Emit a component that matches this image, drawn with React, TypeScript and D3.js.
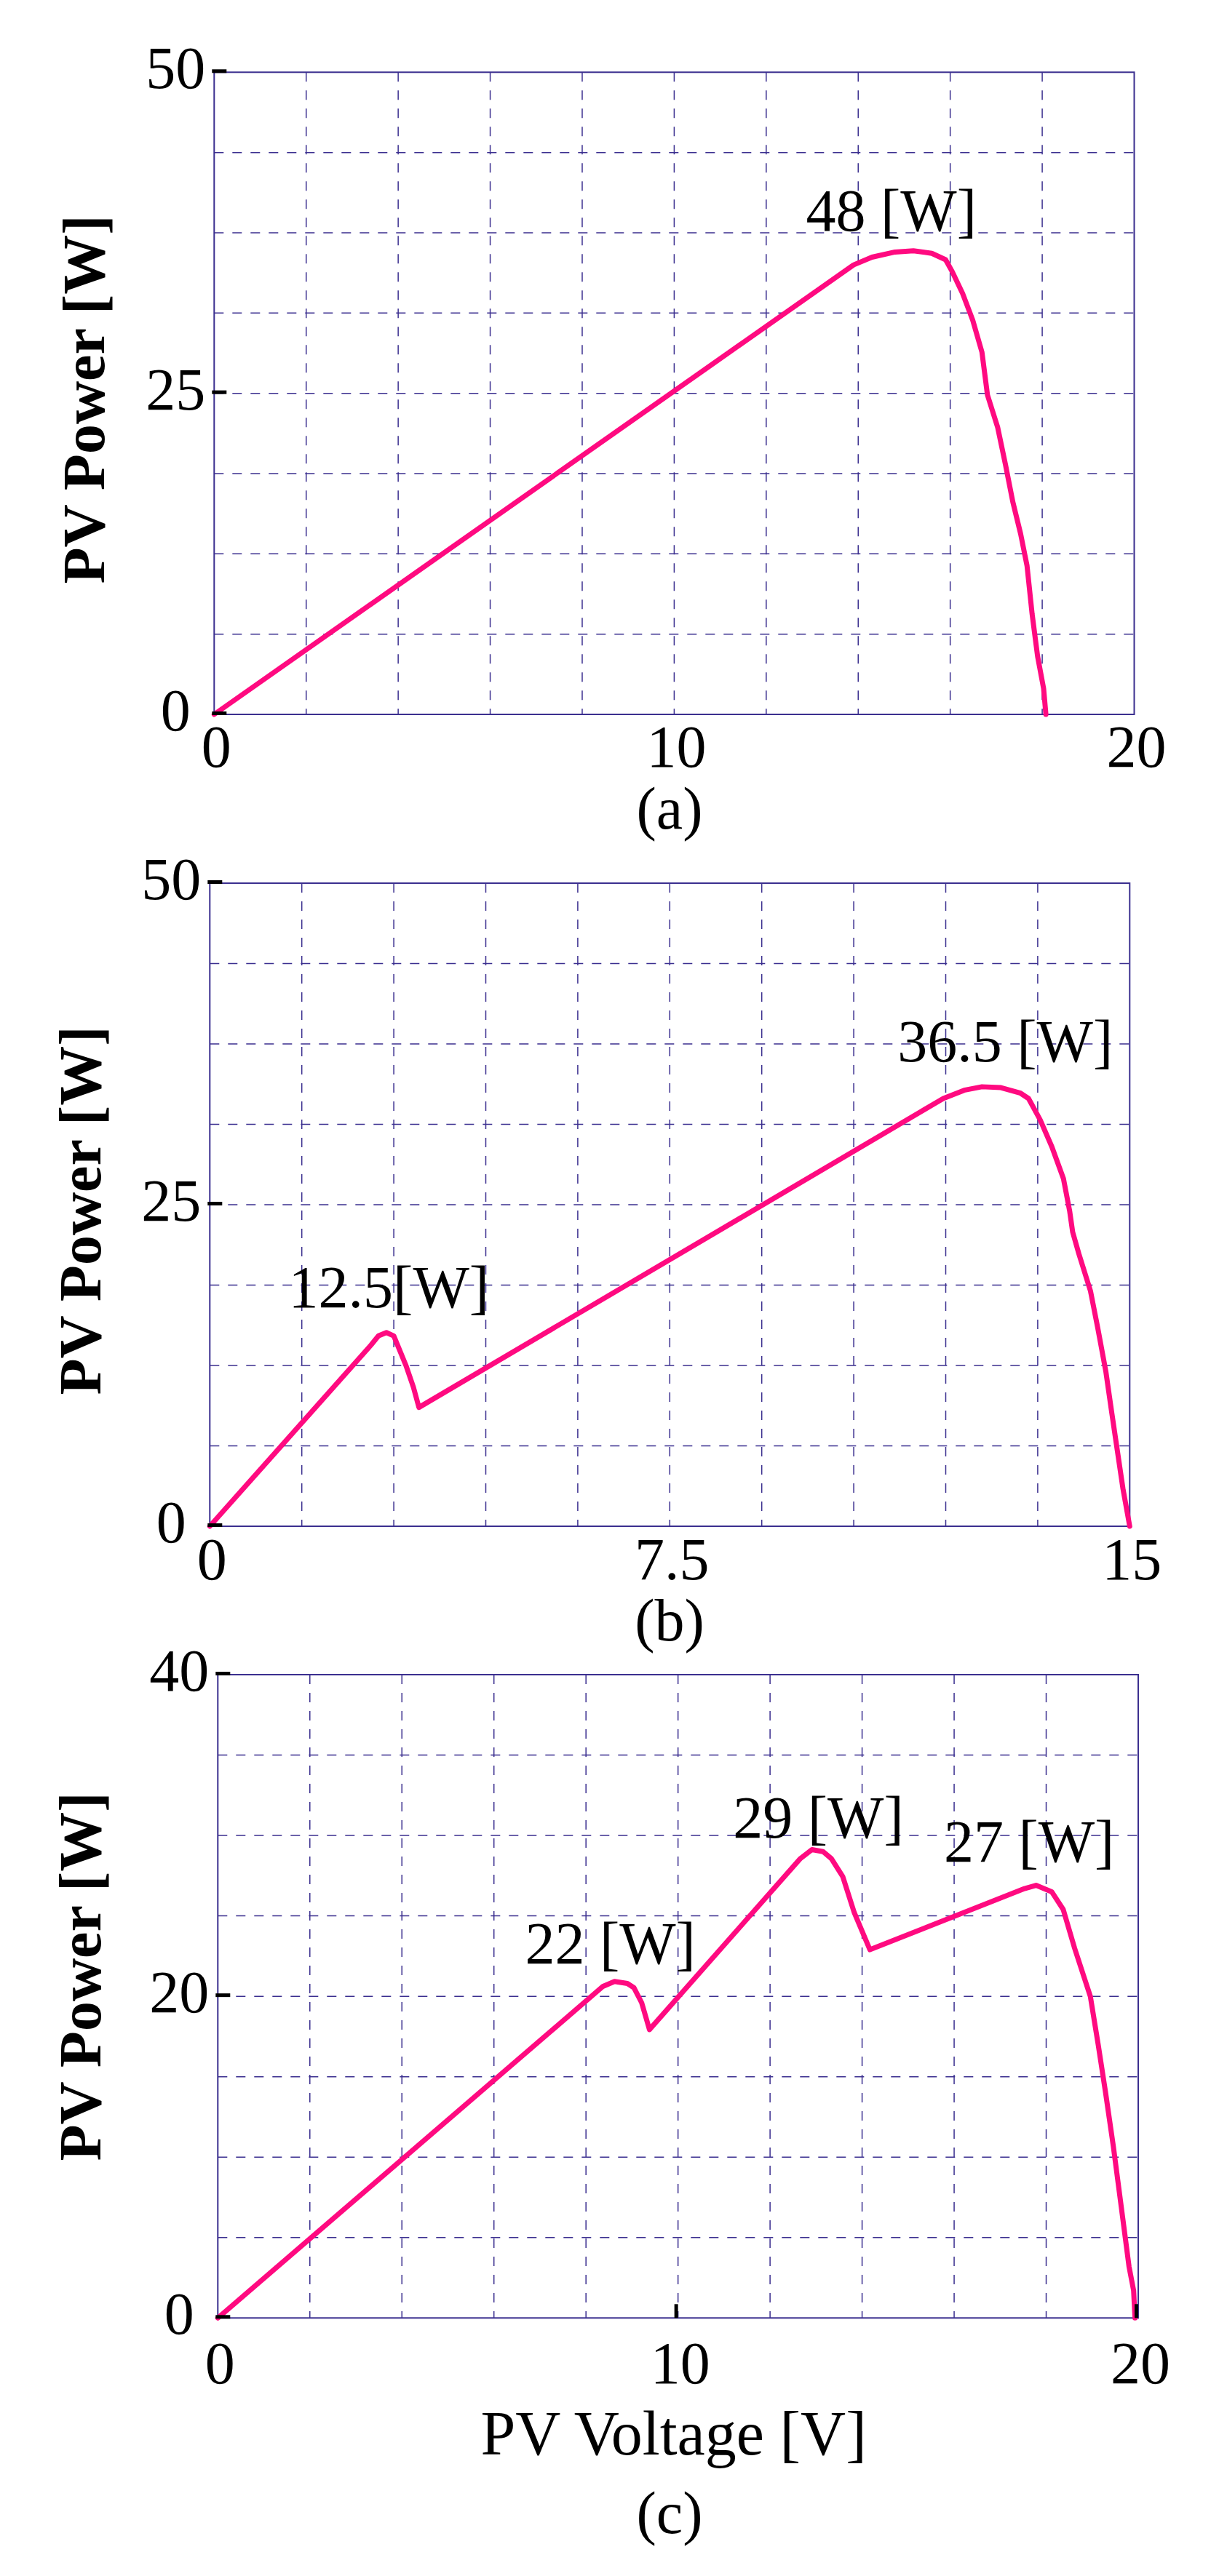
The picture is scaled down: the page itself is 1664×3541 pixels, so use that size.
import React from "react";
import * as d3 from "d3";

// ---- panel (a): uniform irradiance, one peak ----
const voltageA = [0, 13.9, 14.3, 14.8, 15.2, 15.6, 15.9, 16.05, 16.27, 16.49, 16.69, 16.81, 17.03, 17.2, 17.36, 17.53, 17.67, 17.78, 17.9, 18.03, 18.08];
const powerA = [0, 35.0, 35.6, 36.0, 36.1, 35.9, 35.4, 34.43, 32.77, 30.69, 28.2, 24.87, 22.37, 19.47, 16.56, 14.07, 11.57, 7.83, 4.51, 2.02, 0];
const xTicksA = [0, 10, 20];
const yTicksA = [0, 25, 50];
const xGridA = [2, 4, 6, 8, 10, 12, 14, 16, 18];
const yGridA = [6.25, 12.5, 18.75, 25, 31.25, 37.5, 43.75];
const peakLabelsA = ["48 [W]"];
const peakPosA = [[14.72, 37.67]];

// ---- panel (b): two peaks ----
const voltageB = [0, 2.63, 2.75, 2.88, 3.0, 3.2, 3.32, 3.41, 11.96, 12.3, 12.59, 12.9, 13.22, 13.35, 13.54, 13.73, 13.92, 14.02, 14.07, 14.17, 14.36, 14.48, 14.61, 14.71, 14.8, 14.89, 15.0];
const powerB = [0, 14.1, 14.8, 15.06, 14.8, 12.48, 10.81, 9.24, 33.26, 33.9, 34.17, 34.1, 33.67, 33.26, 31.6, 29.51, 27.02, 24.53, 22.87, 21.2, 18.3, 15.39, 12.06, 8.74, 5.83, 2.92, 0];
const xTicksB = [0, 7.5, 15];
const yTicksB = [0, 25, 50];
const xGridB = [1.5, 3, 4.5, 6, 7.5, 9, 10.5, 12, 13.5];
const yGridB = [6.25, 12.5, 18.75, 25, 31.25, 37.5, 43.75];
const peakLabelsB = ["12.5[W]", "36.5 [W]"];
const peakPosB = [[2.92, 17.05], [12.97, 36.17]];

// ---- panel (c): three peaks ----
const voltageC = [0, 8.37, 8.62, 8.9, 9.04, 9.21, 9.38, 12.66, 12.91, 13.15, 13.33, 13.58, 13.83, 14.17, 17.53, 17.78, 18.12, 18.37, 18.62, 18.96, 19.13, 19.29, 19.46, 19.63, 19.8, 19.9, 19.93];
const powerC = [0, 20.62, 20.92, 20.8, 20.54, 19.6, 17.93, 28.57, 29.12, 29.0, 28.57, 27.44, 25.2, 22.9, 26.7, 26.9, 26.5, 25.4, 22.97, 19.99, 17.0, 14.02, 10.66, 6.94, 3.2, 1.7, 0];
const xTicksC = [0, 10, 20];
const yTicksC = [0, 20, 40];
const xGridC = [2, 4, 6, 8, 10, 12, 14, 16, 18];
const yGridC = [5, 10, 15, 20, 25, 30, 35];
const peakLabelsC = ["22 [W]", "29 [W]", "27 [W]"];
const peakPosC = [[8.53, 22.04], [13.05, 29.88], [17.63, 28.38]];

const FONT = '"Liberation Serif", "Times New Roman", serif';
const GRID = "#3b2f8f";
const CURVE = "#ff0a80";

interface PanelProps {
  voltage: number[];
  power: number[];
  xDomain: [number, number];
  yDomain: [number, number];
  xTicks: number[];
  yTicks: number[];
  xGrid: number[];
  yGrid: number[];
  peakLabels: string[];
  peakPos: number[][];
  caption: string;
  box: { left: number; right: number; top: number; bottom: number };
  xLabelDy: number;
  yTitle: { x: number; y: number };
  captionY: number;
  xTickMarks?: boolean;
  xTitleY?: number;
}

function Panel(props: PanelProps) {
  const { box } = props;
  const x = d3.scaleLinear().domain(props.xDomain).range([box.left, box.right]);
  const y = d3.scaleLinear().domain(props.yDomain).range([box.bottom, box.top]);
  const pts = props.voltage.map((v, i) => [v, props.power[i]] as [number, number]);
  const line = d3
    .line<[number, number]>()
    .x((d) => x(d[0]))
    .y((d) => y(d[1]));
  const midX = (box.left + box.right) / 2;

  return (
    <g>
      {/* dashed grid */}
      {props.xGrid.map((v) => (
        <line key={"gx" + v} x1={x(v)} x2={x(v)} y1={box.top} y2={box.bottom}
          stroke={GRID} strokeWidth={1.5} strokeDasharray="13 12" />
      ))}
      {props.yGrid.map((v) => (
        <line key={"gy" + v} x1={box.left} x2={box.right} y1={y(v)} y2={y(v)}
          stroke={GRID} strokeWidth={1.5} strokeDasharray="13 12" />
      ))}
      <rect x={box.left} y={box.top} width={box.right - box.left} height={box.bottom - box.top}
        fill="none" stroke={GRID} strokeWidth={2} />

      {/* curve */}
      <path d={line(pts) || ""} fill="none" stroke={CURVE} strokeWidth={7}
        strokeLinejoin="round" strokeLinecap="round" />

      {/* y ticks */}
      {props.yTicks.map((v) => (
        <g key={"yt" + v}>
          <rect x={box.left - 3} y={y(v) - 4} width={20} height={5} fill="#000" />
          <text x={box.left - 53} y={y(v) + 22} textAnchor="middle"
            fontFamily={FONT} fontSize={82}>{v}</text>
        </g>
      ))}
      {/* x ticks */}
      {props.xTicks.map((v) => (
        <g key={"xt" + v}>
          {props.xTickMarks && v > 0 && (
            <rect x={x(v) - 5} y={box.bottom - 19} width={5} height={19} fill="#000" />
          )}
          <text x={x(v) + 3} y={box.bottom + props.xLabelDy} textAnchor="middle"
            fontFamily={FONT} fontSize={82}>{v}</text>
        </g>
      ))}

      {/* peak annotations */}
      {props.peakLabels.map((t, i) => (
        <text key={t} x={x(props.peakPos[i][0])} y={y(props.peakPos[i][1])}
          textAnchor="middle" fontFamily={FONT} fontSize={82}>{t}</text>
      ))}

      <text transform={`translate(${props.yTitle.x},${props.yTitle.y}) rotate(-90)`}
        textAnchor="middle" fontFamily={FONT} fontWeight="bold" fontSize={82}>
        PV Power [W]
      </text>
      {props.xTitleY !== undefined && (
        <text x={midX - 6} y={props.xTitleY} textAnchor="middle" fontFamily={FONT} fontSize={86}>
          PV Voltage [V]
        </text>
      )}
      <text x={920} y={props.captionY} textAnchor="middle" fontFamily={FONT} fontSize={82}>
        {props.caption}
      </text>
    </g>
  );
}

export default function App() {
  return (
    <svg width={1664} height={3541} style={{ position: "absolute", left: 0, top: 0, background: "#fff" }}>
      <rect width={1664} height={3541} fill="#fff" />
      <Panel voltage={voltageA} power={powerA} xDomain={[0, 20]} yDomain={[0, 50]}
        xTicks={xTicksA} yTicks={yTicksA} xGrid={xGridA} yGrid={yGridA}
        peakLabels={peakLabelsA} peakPos={peakPosA} caption="(a)"
        box={{ left: 294.3, right: 1558.5, top: 99.3, bottom: 982 }}
        xLabelDy={72} yTitle={{ x: 143, y: 549 }} captionY={1139} />
      <Panel voltage={voltageB} power={powerB} xDomain={[0, 15]} yDomain={[0, 50]}
        xTicks={xTicksB} yTicks={yTicksB} xGrid={xGridB} yGrid={yGridB}
        peakLabels={peakLabelsB} peakPos={peakPosB} caption="(b)"
        box={{ left: 288.3, right: 1552.3, top: 1214, bottom: 2098 }}
        xLabelDy={73} yTitle={{ x: 138, y: 1664 }} captionY={2255} />
      <Panel voltage={voltageC} power={powerC} xDomain={[0, 20]} yDomain={[0, 40]}
        xTicks={xTicksC} yTicks={yTicksC} xGrid={xGridC} yGrid={yGridC}
        peakLabels={peakLabelsC} peakPos={peakPosC} caption="(c)"
        box={{ left: 299.3, right: 1564, top: 2302, bottom: 3186.3 }}
        xLabelDy={90} yTitle={{ x: 138, y: 2717 }} captionY={3482}
        xTickMarks xTitleY={3374} />
    </svg>
  );
}
